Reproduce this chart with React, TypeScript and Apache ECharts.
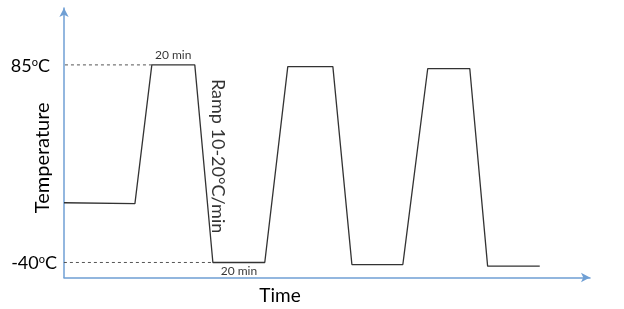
import React, { useEffect, useRef } from "react";
import * as echarts from "echarts";

// Time (min) and temperature (°C) of the cycling profile
const times = [0, 30.2, 37.4, 55.7, 63.4, 85.5, 95.3, 114.5, 122.6, 144.3, 154.9, 172.8, 180.4, 202.6];
const temps = [-2.2, -2.8, 85, 85, -40, -40, 83.9, 83.9, -41.3, -41.3, 82.7, 82.7, -42.3, -42.3];

// Dashed reference lines
const refHigh = [[-4.7, 85], [37.4, 85]];
const refLow = [[-2.6, -40], [63.4, -40]];

// Tick labels on the temperature axis
const tickValues = [85, -40];
const tickLabels: Record<string, string> = { "85": "85{s|o}C{g|}", "-40": "-40{s|o}C" };

// Annotations
const annoText = ["20 min", "20 min", "Ramp 10-20°C/min"];
const annoPos = [[46.5, 85], [74.5, -40], [66, 27.3]];

const FONT = "Lato";
const AXIS_COLOR = "#6f9fd4";

export default function App() {
  const ref = useRef<HTMLDivElement>(null);
  useEffect(() => {
    const chart = echarts.init(ref.current!, null, { renderer: "svg" });
    const annoData = annoText.map((t, i) => {
      const base: any = { value: annoPos[i], name: t };
      if (i === 0) base.label = { position: "top", distance: 4 };
      if (i === 1) base.label = { position: "bottom", distance: 2 };
      if (i === 2) base.label = { position: "inside", rotate: -90, fontSize: 18 };
      return base;
    });
    chart.setOption({
      animation: false,
      textStyle: { fontFamily: FONT },
      grid: { left: 64, right: 34, top: 8, bottom: 31.5, containLabel: false, outerBoundsMode: "none" },
      xAxis: {
        type: "value",
        min: 0,
        max: 224,
        axisLine: { show: true, onZero: false, symbol: ["none", "arrow"], symbolSize: [7, 9], lineStyle: { color: AXIS_COLOR, width: 1.5 } },
        axisTick: { show: false },
        axisLabel: { show: false },
        splitLine: { show: false },
        name: "Time",
        nameLocation: "middle",
        nameGap: 7,
        nameMoveOverlap: false,
        nameTextStyle: { color: "#000", fontSize: 19, fontFamily: FONT, padding: [0, 94, 0, 0] },
      },
      yAxis: {
        type: "value",
        min: -49.5,
        max: 121,
        axisLine: { show: true, onZero: false, symbol: ["none", "arrow"], symbolSize: [7, 9], lineStyle: { color: AXIS_COLOR, width: 1.5 } },
        axisTick: { show: false },
        splitLine: { show: false },
        axisLabel: {
          customValues: tickValues,
          margin: 7,
          color: "#000",
          fontSize: 18,
          fontFamily: FONT,
          formatter: (v: number) => tickLabels[String(v)] ?? "",
          rich: {
            s: { fontSize: 11, fontFamily: FONT, color: "#000", padding: [0, 0, 7, 0] },
            g: { width: 7 },
          },
        },
        name: "Temperature",
        nameLocation: "middle",
        nameRotate: 90,
        nameGap: 13,
        nameMoveOverlap: false,
        nameTextStyle: { color: "#000", fontSize: 20, fontFamily: FONT, padding: [0, 30, 0, 0] },
      },
      series: [
        {
          type: "line",
          data: times.map((t, i) => [t, temps[i]]),
          symbol: "none",
          lineStyle: { color: "#333", width: 1.3 },
          clip: false,
        },
        {
          type: "line",
          data: refHigh,
          symbol: "none",
          lineStyle: { color: "#555", width: 1, type: [3, 3] },
          clip: false,
        },
        {
          type: "line",
          data: refLow,
          symbol: "none",
          lineStyle: { color: "#555", width: 1, type: [3, 3] },
          clip: false,
        },
        {
          type: "scatter",
          data: annoData,
          symbolSize: 0,
          label: {
            show: true,
            formatter: (p: any) => p.name,
            color: "#000",
            fontSize: 12,
            fontFamily: FONT,
          },
          clip: false,
        },
      ],
    });
    return () => chart.dispose();
  }, []);
  return <div ref={ref} style={{ position: "fixed", left: 0, top: 0, width: 624, height: 309 }} />;
}
